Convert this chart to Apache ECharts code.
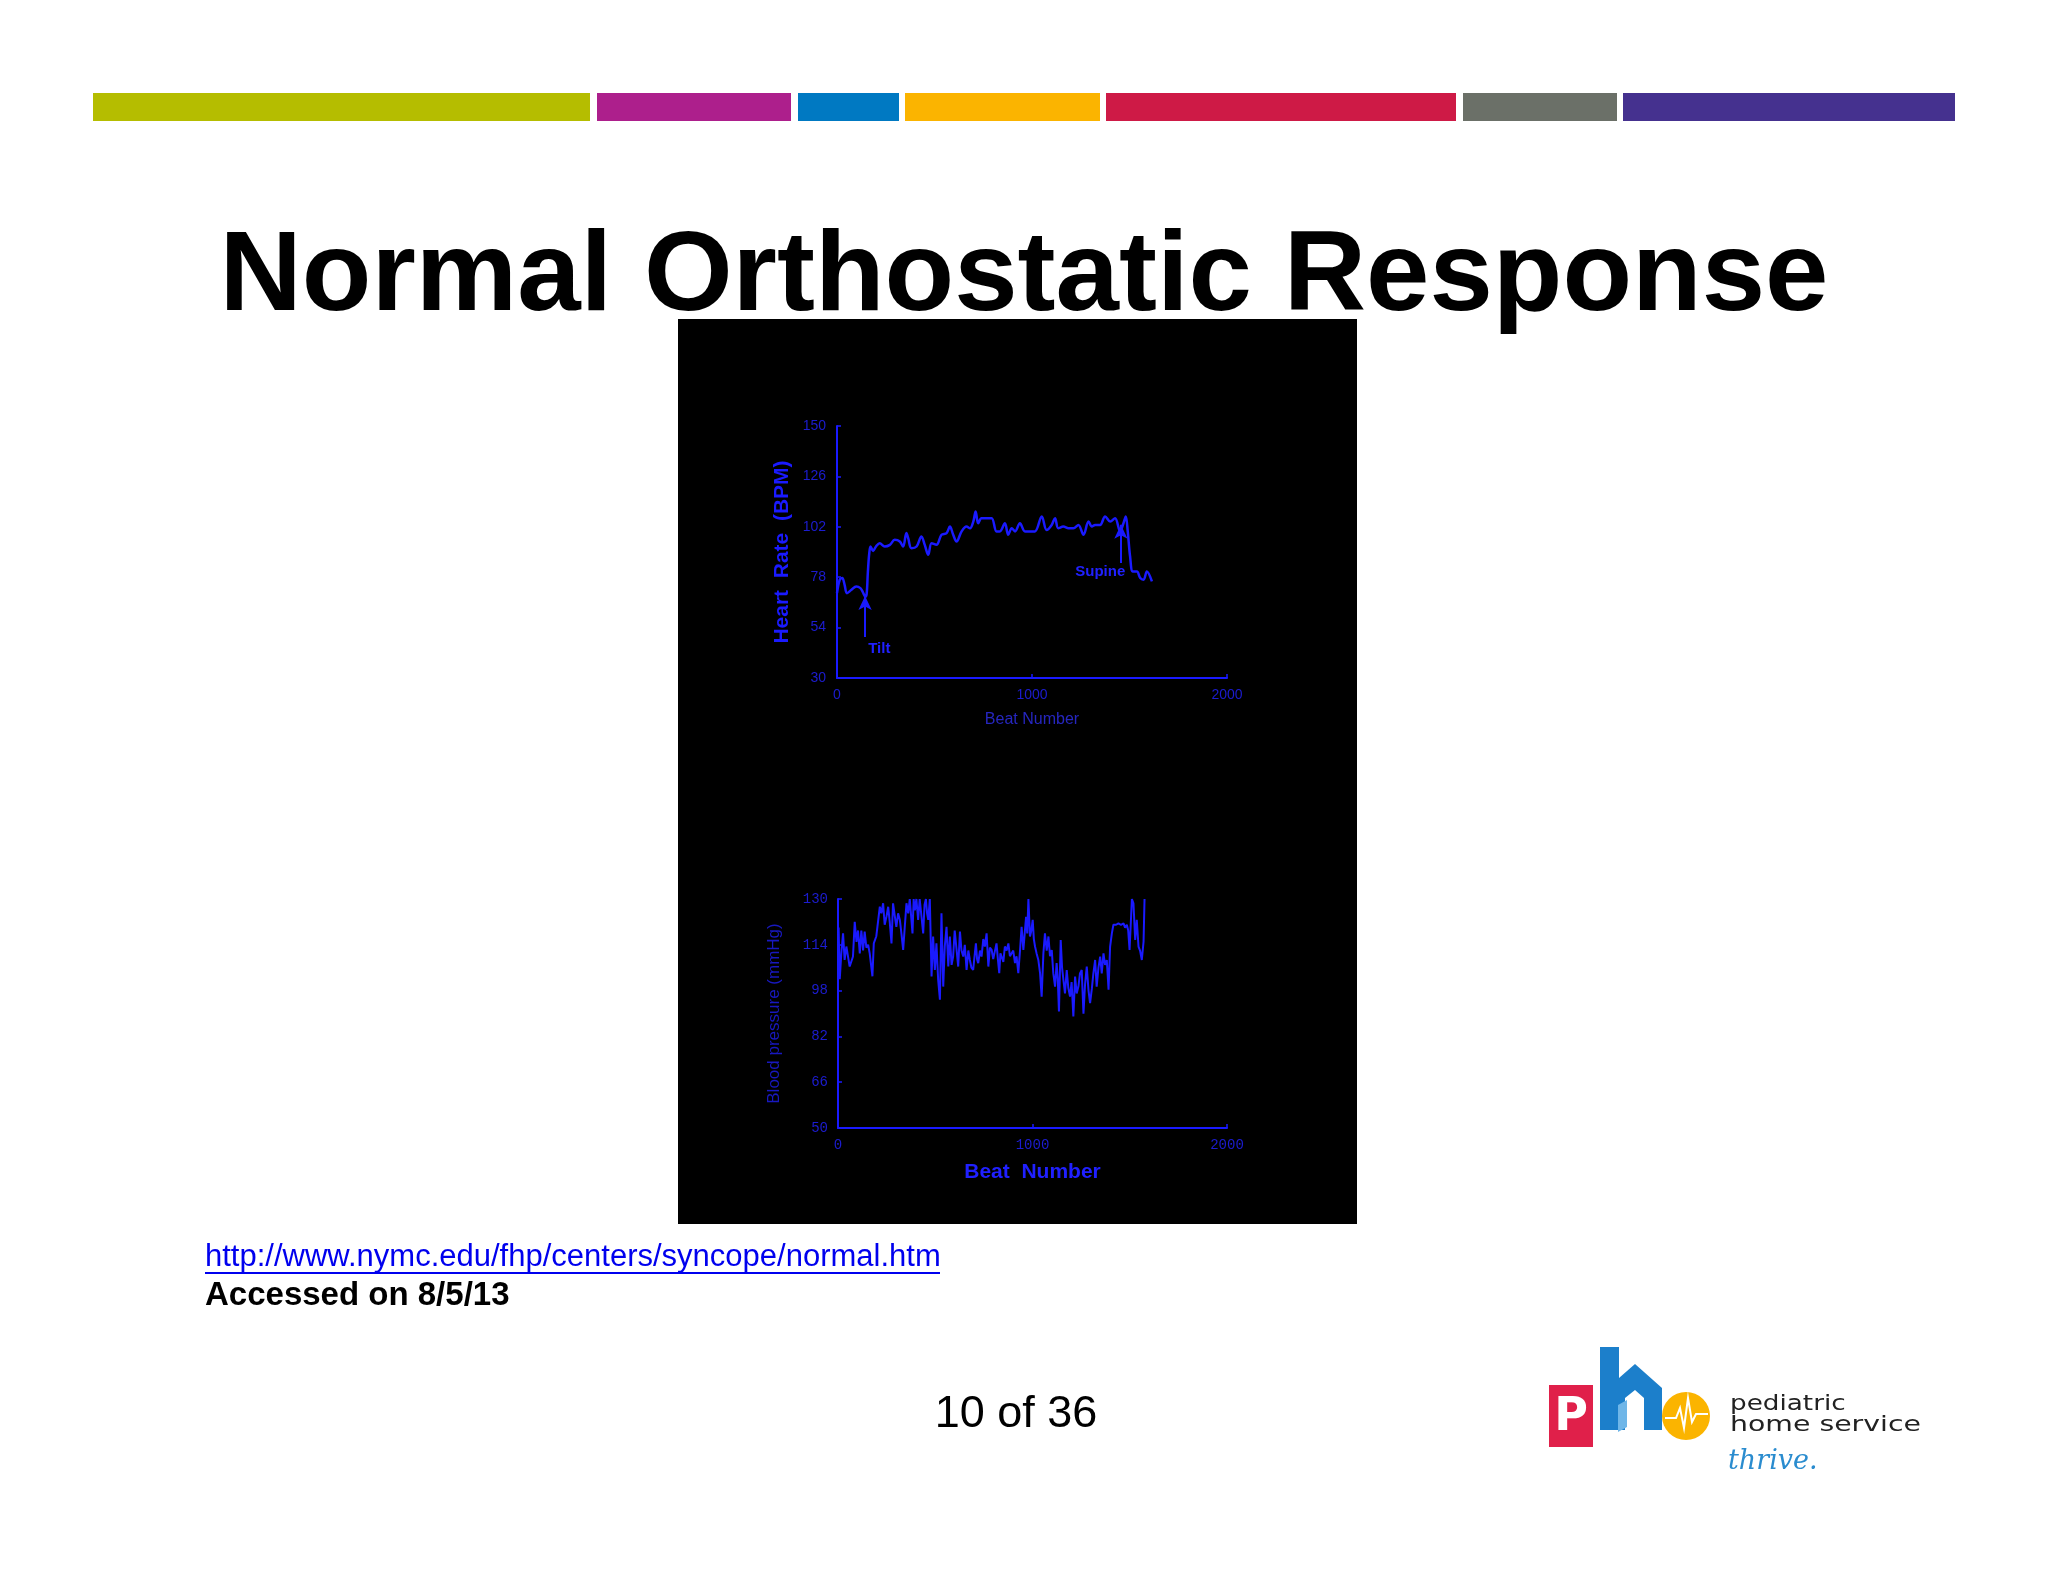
<!DOCTYPE html>
<html>
<head>
<meta charset="utf-8">
<script src="https://cdn.jsdelivr.net/npm/echarts@6/dist/echarts.min.js"></script>
<style>
html,body{margin:0;padding:0;background:#fff;}
#main{width:2048px;height:1582px;}
</style>
</head>
<body>
<div id="main"></div>
<script>
// ---- Heart rate trace (beat number, BPM) ----
const hrBeats = [0,14,27,39,51,74,99,120,132,145,152,158,165,172,185,200,219,245,271,296,322,339,356,365,382,408,433,450,468,485,510,536,562,579,596,613,639,664,682,699,711,724,741,767,793,818,835,861,878,896,913,938,964,990,1015,1050,1075,1101,1118,1135,1161,1187,1212,1238,1264,1290,1307,1324,1349,1375,1401,1426,1452,1469,1481,1491,1503,1517,1538,1555,1572,1589,1615];
const hrValues = [70.4,76.8,77.6,74.4,70.4,72,73.6,72.8,71,68.8,70,80,89,92.6,90.5,92.6,94.2,92.6,93.4,95.8,95.0,92.6,99,96.6,91.8,92.6,97.4,93.4,88.7,94.2,93.4,98.2,99,102.1,98.2,95.0,99.8,102.1,101.3,104.5,109.3,103.7,106.1,106.1,106.1,99.8,99.8,103.7,98.2,101.3,99.8,103.7,99.8,99.8,99.8,106.9,100.5,102.9,106.1,101.3,102.1,101.3,101.3,102.9,98.2,104.5,102.1,102.9,102.9,106.9,104.5,106.1,99.8,103.7,106.9,99.8,87.9,80.7,80.7,77.6,76.8,80.7,76];

// ---- Blood pressure trace (beat number, mmHg) ----
const bpBeats = [0,3,9,17,26,34,43,60,77,86,95,103,112,120,129,137,146,155,163,177,184,197,215,223,232,240,249,258,266,275,283,292,300,309,318,326,335,343,352,361,369,376,383,389,395,403,412,420,429,438,445,452,458,464,472,481,489,498,506,515,524,532,541,549,558,567,575,584,592,600,609,618,627,635,644,652,661,670,678,686,695,702,709,715,721,730,738,747,755,764,773,781,790,798,807,815,822,829,835,841,850,858,867,876,884,893,901,910,918,927,936,944,953,960,967,973,979,987,994,1001,1007,1013,1021,1030,1039,1047,1056,1064,1073,1082,1090,1099,1107,1116,1124,1130,1136,1145,1152,1159,1167,1176,1184,1193,1201,1210,1219,1227,1236,1244,1253,1262,1270,1279,1288,1296,1305,1313,1322,1330,1339,1348,1356,1365,1373,1382,1391,1399,1408,1416,1430,1442,1455,1468,1476,1485,1492,1499,1505,1511,1519,1528,1536,1545,1553,1562,1571,1576];
const bpValues = [118,120,102,111,118,108.7,113.4,106.4,109.9,122,115,119,111,119,112,118.6,113,114,111,103,114.5,117,127.3,125,128.5,121,123.8,127.3,122,114.5,128.5,124,120.3,125,122.7,118,112.2,120,128.5,125,130,124,118,130,126,130,122.7,130,130,118,128,130,125,122.7,130,102.9,116.9,105.2,114.5,101.7,94.8,125,99.4,113.4,120.3,106.4,116.9,107,109.9,119,118.6,106.4,118.6,112,109.9,114,105.2,112,108.7,106,105.2,110,114.5,109,107.6,112,109.9,116,113.4,118,106.4,113,112.2,109,108.7,114.5,109,104.1,111,109.9,108,113.4,112,114.5,110,109.9,112,107.6,110,104.1,112.2,120.3,112.2,118,123.8,118,130,116.9,119,122.7,116,113.4,111,108.7,104,95.9,111,118,112,116.9,110,112.2,104,99.4,107.6,102,90.7,115.7,106,101.7,97,105.2,99,95.9,101,89,102.9,97,99.4,104,105.2,89.9,100,106.4,98,93.6,98.6,104,108.7,99.4,106,109.9,104,111,107,108.7,98.3,113.4,118,121,121,121.5,121,121.5,120,121,119,112.2,121,130,128.5,115.7,122.7,113.4,112,108.7,115.1,130];

// ---- Axis ticks / labels ----
const hrTicks = [30,54,78,102,126,150];
const bpTicks = [50,66,82,98,114,130];
const beatTicks = [0,1000,2000];

// ---- Annotations ----
const tiltArrow = [[144,49.5],[144,69]];
const tiltLabel = [160,44];
const supineArrow = [[1456,84.8],[1456,103]];
const supineLabel = [1350,80.5];

// ---- Slide text ----
const slideTitle = 'Normal Orthostatic Response';
const sourceUrl = 'http://www.nymc.edu/fhp/centers/syncope/normal.htm';
const accessed = 'Accessed on 8/5/13';
const pageText = '10 of 36';
const stripeColors = ['#B5BD00','#AD1F8C','#0079C2','#FBB400','#CE1A46','#6B7068','#45318F'];
const stripeEdges = [[93,590],[597,791],[798,899],[905,1100],[1106,1456],[1463,1617],[1623,1955]];

const LINE = '#1a1aff';
const LABEL = '#1c1cd0';

const hrData = hrBeats.map((b,i)=>[b,hrValues[i]]);
const bpData = bpBeats.map((b,i)=>[b,bpValues[i]]);

const chart = echarts.init(document.getElementById('main'));

const graphics = [];
graphics.push({type:'rect', z:-100, shape:{x:678,y:319,width:679,height:905}, style:{fill:'#000'}});
stripeEdges.forEach((e,i)=>{
  graphics.push({type:'rect', shape:{x:e[0],y:93,width:e[1]-e[0],height:28}, style:{fill:stripeColors[i]}});
});
graphics.push({type:'text', x:1024, y:279, style:{text:slideTitle, font:'bold 114px "Liberation Sans", Arial, sans-serif', fill:'#000', textAlign:'center', textVerticalAlign:'middle'}});
graphics.push({type:'text', x:205, y:1257, style:{text:sourceUrl, font:'31px "Liberation Sans", Arial, sans-serif', fill:'#0000EE', textAlign:'left', textVerticalAlign:'middle'}});
graphics.push({type:'rect', shape:{x:205,y:1272,width:735,height:2}, style:{fill:'#0000EE'}});
graphics.push({type:'text', x:205, y:1296, style:{text:accessed, font:'bold 33px "Liberation Sans", Arial, sans-serif', fill:'#000', textAlign:'left', textVerticalAlign:'middle'}});
graphics.push({type:'text', x:1016, y:1415, style:{text:pageText, font:'45px "Liberation Sans", Arial, sans-serif', fill:'#000', textAlign:'center', textVerticalAlign:'middle'}});
// logo
graphics.push({type:'rect', shape:{x:1549,y:1385,width:44,height:62}, style:{fill:'#E0204A'}});
graphics.push({type:'text', x:1571, y:1418, style:{text:'P', font:'bold 46px "DejaVu Sans", sans-serif', fill:'#fff', textAlign:'center', textVerticalAlign:'middle'}});
graphics.push({type:'polygon', shape:{points:[[1600,1347],[1619,1347],[1619,1378],[1635,1364],[1662,1388],[1662,1430],[1644,1430],[1644,1398],[1635,1390],[1625,1398],[1625,1430],[1600,1430]]}, style:{fill:'#1C7FCB'}});
graphics.push({type:'polygon', shape:{points:[[1618,1405],[1627,1400],[1627,1427],[1618,1432]]}, style:{fill:'#6FB6E8'}});
graphics.push({type:'circle', shape:{cx:1686,cy:1416,r:24}, style:{fill:'#FBB400'}});
graphics.push({type:'polyline', shape:{points:[[1665,1418],[1676,1418],[1680,1408],[1684,1428],[1688,1398],[1692,1422],[1696,1414],[1708,1414]]}, style:{stroke:'#fff', lineWidth:2, fill:null}});
graphics.push({type:'text', x:1730, y:1405, scaleX:1.25, originX:0, style:{text:'pediatric', font:'21px "DejaVu Sans", sans-serif', fill:'#222', textAlign:'left', textVerticalAlign:'middle'}});
graphics.push({type:'text', x:1730, y:1426, scaleX:1.35, originX:0, style:{text:'home service', font:'21px "DejaVu Sans", sans-serif', fill:'#222', textAlign:'left', textVerticalAlign:'middle'}});
graphics.push({type:'text', x:1728, y:1462, style:{text:'thrive.', font:'italic 27px "DejaVu Serif", serif', fill:'#2A8CCF', textAlign:'left', textVerticalAlign:'middle'}});

const axisCommon = {
  axisLine:{show:true, onZero:false, lineStyle:{color:LINE, width:2}},
  axisTick:{show:true, inside:true, length:4, lineStyle:{color:LINE, width:1.5}},
  splitLine:{show:false},
};
const plain = v => String(v);

chart.setOption({
  animation:false,
  backgroundColor:'#ffffff',
  graphic: graphics,
  grid:[
    {left:837, top:426, width:390, height:252},
    {left:838, top:899, width:389, height:229}
  ],
  xAxis:[
    Object.assign({gridIndex:0, type:'value', min:0, max:2000, interval:1000,
      axisLabel:{color:LABEL, fontSize:14, fontFamily:'Liberation Sans', margin:10, formatter:plain},
      name:'Beat Number', nameLocation:'middle', nameGap:34,
      nameTextStyle:{color:'#2626c0', fontSize:16, fontFamily:'Liberation Sans'}}, axisCommon),
    Object.assign({gridIndex:1, type:'value', min:0, max:2000, interval:1000,
      axisLabel:{color:LABEL, fontSize:14, fontFamily:'Liberation Mono', margin:10, formatter:plain},
      name:'Beat  Number', nameLocation:'middle', nameGap:34,
      nameTextStyle:{color:'#2020ff', fontSize:21, fontWeight:'bold', fontFamily:'Liberation Sans'}}, axisCommon)
  ],
  yAxis:[
    Object.assign({gridIndex:0, type:'value', min:30, max:150, interval:24,
      axisLabel:{color:LABEL, fontSize:14, fontFamily:'Liberation Sans', margin:11, formatter:plain},
      name:'Heart  Rate  (BPM)', nameLocation:'middle', nameGap:44, nameRotate:90,
      nameTextStyle:{color:'#1a1aff', fontSize:21, fontWeight:'bold', fontFamily:'Liberation Sans'}}, axisCommon),
    Object.assign({gridIndex:1, type:'value', min:50, max:130, interval:16,
      axisLabel:{color:LABEL, fontSize:14, fontFamily:'Liberation Mono', margin:10, formatter:plain},
      name:'Blood pressure (mmHg)', nameLocation:'middle', nameGap:55, nameRotate:90,
      nameTextStyle:{color:'#1818c0', fontSize:17, fontFamily:'Liberation Sans'}}, axisCommon)
  ],
  series:[
    {type:'line', xAxisIndex:0, yAxisIndex:0, data:hrData, showSymbol:false, smooth:0.35,
      lineStyle:{color:LINE, width:2.5},
      markLine:{silent:true, symbol:['none','arrow'], symbolSize:[10,14],
        lineStyle:{color:LINE, width:2, type:'solid'}, label:{show:false},
        data:[[{coord:tiltArrow[0]},{coord:tiltArrow[1]}],[{coord:supineArrow[0]},{coord:supineArrow[1]}]]},
      markPoint:{silent:true, symbol:'circle', symbolSize:0,
        label:{show:true, color:'#2020ff', fontWeight:'bold', fontSize:15, fontFamily:'Liberation Sans'},
        data:[
          {coord:tiltLabel, label:{position:'right', distance:0, formatter:'Tilt'}},
          {coord:supineLabel, label:{position:'inside', formatter:'Supine'}}
        ]}
    },
    {type:'line', xAxisIndex:1, yAxisIndex:1, data:bpData, showSymbol:false,
      lineStyle:{color:LINE, width:2}}
  ]
});
</script>
</body>
</html>
